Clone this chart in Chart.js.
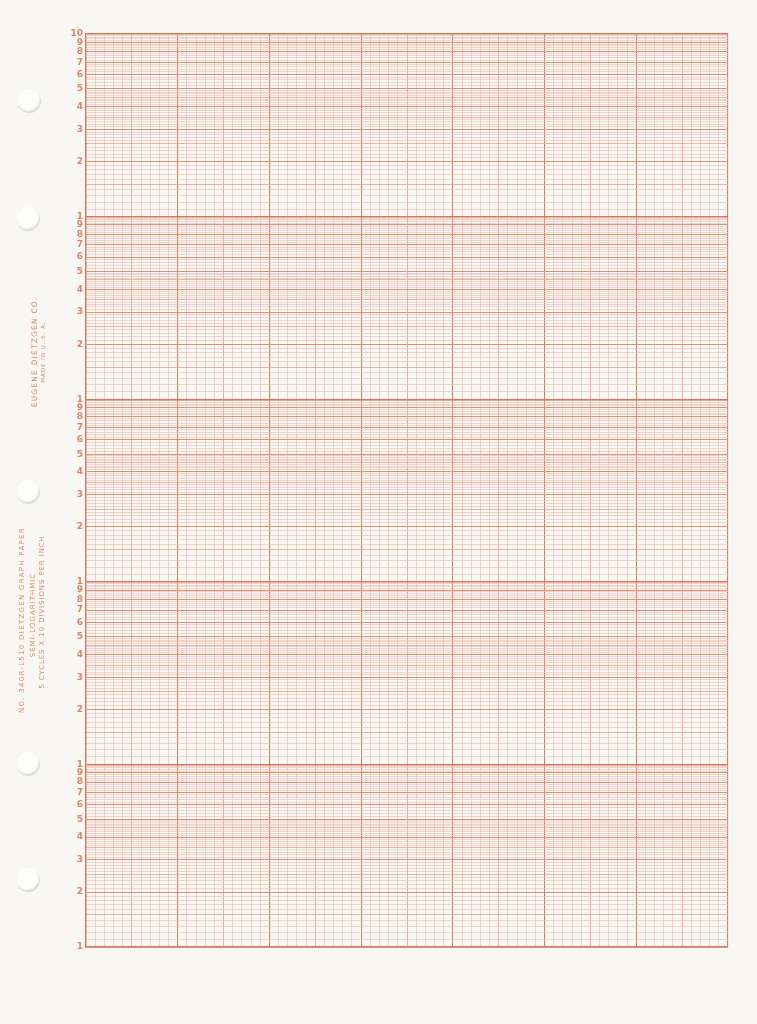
<!DOCTYPE html>
<html>
<head>
<meta charset="utf-8">
<script src="https://cdn.jsdelivr.net/npm/chart.js@4/dist/chart.umd.min.js"></script>
<style>
  html, body { margin: 0; padding: 0; background: #f8f7f3; }
  #wrap { position: relative; width: 757px; height: 1024px; overflow: hidden; }
  #paper { position: absolute; left: 0; top: 0; width: 757px; height: 1024px; }
  .side { position: absolute; color: #dc8a6c; font-family: "DejaVu Sans", sans-serif;
          white-space: nowrap; transform: translate(-50%, -50%) rotate(-90deg); }
  .hole { position: absolute; width: 24px; height: 24px; border-radius: 50%;
          background: #fdfdfc; box-shadow: inset -1px -2px 2px rgba(150,150,150,0.35); }
</style>
</head>
<body>
<div id="wrap">
  <canvas id="paper" width="757" height="1024"></canvas>
  <div class="side" style="left:34px; top:352px; font-size:7.5px; letter-spacing:1.2px;">EUGENE DIETZGEN CO.</div>
  <div class="side" style="left:43px; top:352px; font-size:5.5px; letter-spacing:1px;">MADE IN U. S. A.</div>
  <div class="side" style="left:22px; top:620px; font-size:7px; letter-spacing:1.3px;">NO. 340R-L510 DIETZGEN GRAPH PAPER</div>
  <div class="side" style="left:33px; top:615px; font-size:7px; letter-spacing:1px;">SEMI-LOGARITHMIC</div>
  <div class="side" style="left:42px; top:612px; font-size:7px; letter-spacing:0.9px;">5 CYCLES X 10 DIVISIONS PER INCH</div>
  <div class="hole" style="left:17px; top:89px;"></div>
  <div class="hole" style="left:16px; top:207px;"></div>
  <div class="hole" style="left:16px; top:480px;"></div>
  <div class="hole" style="left:16px; top:752px;"></div>
  <div class="hole" style="left:16px; top:868px;"></div>
</div>
<script>
// paper layout: 5 log cycles up the page, 70 linear divisions across
const cycleStarts = [1, 10, 100, 1000, 10000];
const topValue = 100000;
const labelMantissas = [1, 2, 3, 4, 5, 6, 7, 8, 9];
const topLabel = "10";
// rulings inside one cycle: 0.1 apart from 1 to 5, 0.2 apart from 5 to 10
const rulingMantissas = [
  1, 1.1, 1.2, 1.3, 1.4, 1.5, 1.6, 1.7, 1.8, 1.9,
  2, 2.1, 2.2, 2.3, 2.4, 2.5, 2.6, 2.7, 2.8, 2.9,
  3, 3.1, 3.2, 3.3, 3.4, 3.5, 3.6, 3.7, 3.8, 3.9,
  4, 4.1, 4.2, 4.3, 4.4, 4.5, 4.6, 4.7, 4.8, 4.9,
  5, 5.2, 5.4, 5.6, 5.8, 6, 6.2, 6.4, 6.6, 6.8,
  7, 7.2, 7.4, 7.6, 7.8, 8, 8.2, 8.4, 8.6, 8.8,
  9, 9.2, 9.4, 9.6, 9.8
];
const halfMantissas = [1.5, 2.5, 3.5, 4.5];
const xDivisions = 70;

// colours of the ink
const inkCycle = "#d6765b";
const inkMajor = "#de9077";
const inkHalf = "#e6a28c";
const inkMinor = "#ecbcad";
const inkColMajor = "#c98573";
const inkColHalf = "#d9a293";
const inkColMinor = "#e6bcb0";

// build the y rulings and remember what kind each one is
const yTicks = [];
const yKind = new Map();
const yLabel = new Map();
cycleStarts.forEach((c) => {
  rulingMantissas.forEach((m) => {
    const v = c * m;
    yTicks.push(v);
    let kind = "minor";
    if (m === 1) kind = "cycle";
    else if (labelMantissas.includes(m)) kind = "major";
    else if (halfMantissas.includes(m)) kind = "half";
    yKind.set(v, kind);
    if (labelMantissas.includes(m)) yLabel.set(v, String(m));
  });
});
yTicks.push(topValue);
yKind.set(topValue, "cycle");
yLabel.set(topValue, topLabel);

function yColor(ctx) {
  const k = yKind.get(ctx.tick && ctx.tick.value);
  if (k === "cycle") return inkCycle;
  if (k === "major") return inkMajor;
  if (k === "half") return inkHalf;
  return inkMinor;
}
function yWidth(ctx) {
  const k = yKind.get(ctx.tick && ctx.tick.value);
  if (k === "cycle") return 1.4;
  if (k === "major") return 1;
  if (k === "half") return 0.8;
  return 0.6;
}
function xColor(ctx) {
  const v = ctx.tick ? ctx.tick.value : 0;
  if (v % 10 === 0) return inkColMajor;
  if (v % 5 === 0) return inkColHalf;
  return inkColMinor;
}
function xWidth(ctx) {
  const v = ctx.tick ? ctx.tick.value : 0;
  if (v % 10 === 0) return 1.1;
  if (v % 5 === 0) return 0.8;
  return 0.6;
}

const ctx = document.getElementById("paper").getContext("2d");
const chart = new Chart(ctx, {
  type: "scatter",
  data: { datasets: [{ data: [] }] },
  options: {
    responsive: false,
    animation: false,
    events: [],
    layout: { padding: { left: 0, top: 34, right: 29, bottom: 77 } },
    plugins: { legend: { display: false }, tooltip: { enabled: false } },
    scales: {
      x: {
        type: "linear",
        min: 0,
        max: xDivisions,
        ticks: { stepSize: 1, display: false },
        grid: { color: xColor, lineWidth: xWidth, drawTicks: false },
        border: { color: inkCycle, width: 1.4 },
        afterFit: (scale) => { scale.height = 0; },
      },
      y: {
        type: "logarithmic",
        min: 1,
        max: topValue,
        afterBuildTicks: (scale) => {
          scale.ticks = yTicks.map((v) => ({ value: v }));
        },
        afterFit: (scale) => { scale.width = 86; },
        ticks: {
          autoSkip: false,
          padding: 3,
          color: "#d8866a",
          font: { family: "DejaVu Sans", size: 9, weight: "bold" },
          callback: (value) => yLabel.get(value) || "",
        },
        grid: { color: yColor, lineWidth: yWidth, drawTicks: false },
        border: { color: inkCycle, width: 1.4 },
      },
    },
  },
});
</script>
</body>
</html>
